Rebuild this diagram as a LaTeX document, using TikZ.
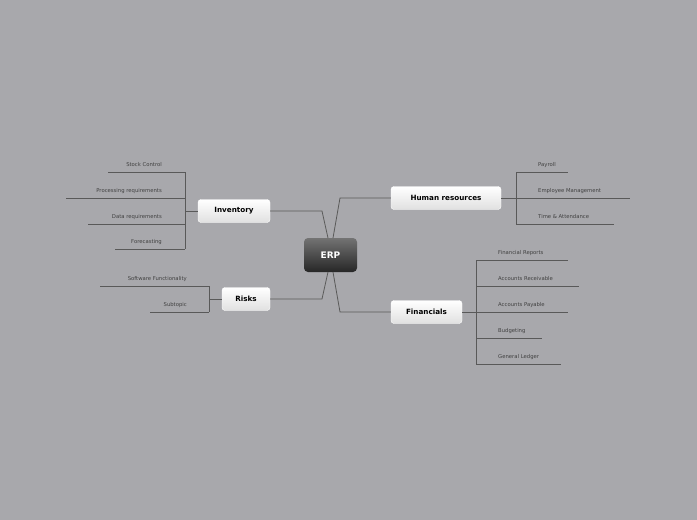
\documentclass[tikz,border=0pt]{standalone}
\usepackage{fontspec}
\setmainfont{DejaVu Sans}
\begin{document}
\begin{tikzpicture}[x=1pt,y=-1pt,
  ln/.style={draw=black!65,line width=0.8pt},
  sub/.style={font=\fontsize{5.3}{6}\selectfont,text=black!75,inner sep=0pt},
  topic/.style={draw=white,rounded corners=3pt,top color=white,bottom color=black!12,font=\bfseries\fontsize{7.2}{8}\selectfont,minimum height=23pt,inner sep=0pt},
  central/.style={rounded corners=4pt,top color=black!55,bottom color=black!85,text=white,font=\bfseries\fontsize{9}{10}\selectfont,minimum width=53pt,minimum height=34pt,inner sep=0pt}]
\fill[fill={rgb,255:red,168;green,168;blue,172}] (0,0) rectangle (697,520);
\useasboundingbox (0,0) rectangle (697,520);
\node[central] (erp) at (330.5,255) {ERP};
\node[topic,minimum width=72pt] (inv) at (234,211) {Inventory};
\node[topic,minimum width=48pt] (risk) at (246,299) {Risks};
\node[topic,minimum width=110pt] (hr) at (446,198) {Human resources};
\node[topic,minimum width=71pt] (fin) at (426.5,312) {Financials};
% main connectors
\coordinate (a1) at (322,211); \coordinate (a2) at (328,238);
\coordinate (b1) at (340,198); \coordinate (b2) at (333,238);
\coordinate (c1) at (322,299); \coordinate (c2) at (328,272);
\coordinate (d1) at (340,312); \coordinate (d2) at (333,272);
\draw[ln] (inv.east) -- (a1) -- (a2);
\draw[ln] (hr.west) -- (b1) -- (b2);
\draw[ln] (risk.east) -- (c1) -- (c2);
\draw[ln] (fin.west) -- (d1) -- (d2);
% inventory subtopics
\coordinate (iv) at (185,211);
\draw[ln] (inv.west) -- (iv);
\draw[ln,line width=0.6pt] (185,172) -- (185,249);
\foreach \y/\x/\t in {172/108/Stock Control,198/66/Processing requirements,224/88/Data requirements,249/115/Forecasting}{
  \draw[ln,line width=0.6pt] (\x,\y) -- (185,\y);
  \node[sub,anchor=base east] at (162,\y-6) {\t};}
% risks
\draw[ln] (risk.west) -- (209,299);
\draw[ln,line width=0.6pt] (209,286) -- (209,312);
\foreach \y/\x/\t in {286/100/Software Functionality,312/150/Subtopic}{
  \draw[ln,line width=0.6pt] (\x,\y) -- (209,\y);
  \node[sub,anchor=base east] at (187,\y-6) {\t};}
% HR
\draw[ln] (hr.east) -- (516,198);
\draw[ln,line width=0.6pt] (516,172) -- (516,224);
\foreach \y/\x/\t in {172/568/Payroll,198/630/Employee Management,224/614/Time \& Attendance}{
  \draw[ln,line width=0.6pt] (516,\y) -- (\x,\y);
  \node[sub,anchor=base west] at (538,\y-6) {\t};}
% Financials
\draw[ln] (fin.east) -- (476,312);
\draw[ln,line width=0.6pt] (476,260) -- (476,364);
\foreach \y/\x/\t in {260/568/Financial Reports,286/579/Accounts Receivable,312/568/Accounts Payable,338/542/Budgeting,364/561/General Ledger}{
  \draw[ln,line width=0.6pt] (476,\y) -- (\x,\y);
  \node[sub,anchor=base west] at (498,\y-6) {\t};}
\end{tikzpicture}
\end{document}
